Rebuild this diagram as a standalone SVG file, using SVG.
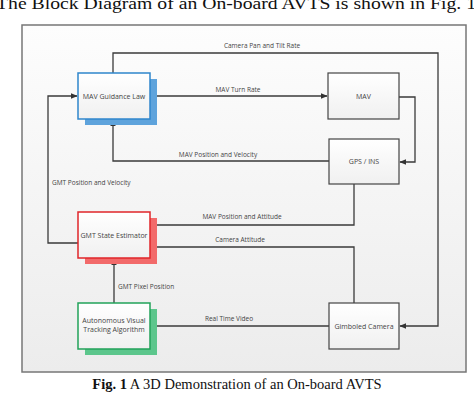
<svg xmlns="http://www.w3.org/2000/svg" width="474" height="401" viewBox="0 0 474 401">
<style>
.lbl{font-family:"Open Sans","Liberation Sans",sans-serif;font-size:6.5px;fill:#444}
.nl{font-family:"Open Sans","Liberation Sans",sans-serif;font-size:7px;fill:#444;text-anchor:middle}
.ln{fill:none;stroke:#3a3a3a;stroke-width:1.3}
.box{fill:url(#nodeg);stroke:#444;stroke-width:1.2}
.serif{font-family:"Liberation Serif","Times New Roman",serif;fill:#111}
</style>
<defs>
<linearGradient id="bg" x1="0" y1="0" x2="0" y2="1"><stop offset="0" stop-color="#fdfdfd"/><stop offset="1" stop-color="#ececec"/></linearGradient>
<linearGradient id="nodeg" x1="0" y1="0" x2="0" y2="1"><stop offset="0" stop-color="#ffffff"/><stop offset="1" stop-color="#f0f0f0"/></linearGradient>
<marker id="ah" viewBox="0 0 10 10" refX="9" refY="5" markerWidth="7" markerHeight="7" markerUnits="userSpaceOnUse" orient="auto"><path d="M0,1 L10,5 L0,9 z" fill="#333"/></marker>
</defs>
<rect width="474" height="401" fill="#fff"/>
<text class="serif" x="-4" y="9" font-size="17" textLength="480" lengthAdjust="spacingAndGlyphs">The Block Diagram of an On-board AVTS is shown in Fig. 1</text>
<rect x="22" y="25" width="444" height="347" fill="url(#bg)" stroke="#777" stroke-width="1.5"/>
<g id="connectors">
<path class="ln" d="M113,73 V53 H438 V326 H400" marker-end="url(#ah)"/>
<path class="ln" d="M150,96 H327" marker-end="url(#ah)"/>
<path class="ln" d="M399,97 H415 V162 H400" marker-end="url(#ah)"/>
<path class="ln" d="M329,161 H113 V120" marker-end="url(#ah)"/>
<path class="ln" d="M78,243 H48 V96 H77" marker-end="url(#ah)"/>
<path class="ln" d="M354,184 V225 H151" marker-end="url(#ah)"/>
<path class="ln" d="M354,303 V247 H151" marker-end="url(#ah)"/>
<path class="ln" d="M329,326 H151" marker-end="url(#ah)"/>
<path class="ln" d="M114,303 V259" marker-end="url(#ah)"/>
<text class="lbl" x="262" y="47.5" text-anchor="middle">Camera Pan and Tilt Rate</text>
<text class="lbl" x="238" y="92" text-anchor="middle">MAV Turn Rate</text>
<text class="lbl" x="218" y="157" text-anchor="middle">MAV Position  and  Velocity</text>
<text class="lbl" x="52" y="185">GMT Position and Velocity</text>
<text class="lbl" x="242" y="219" text-anchor="middle">MAV Position and Attitude</text>
<text class="lbl" x="240" y="242" text-anchor="middle">Camera Attitude</text>
<text class="lbl" x="118" y="289">GMT Pixel Position</text>
<text class="lbl" x="229" y="321" text-anchor="middle">Real Time Video</text>
</g>
<g id="guidance">
<rect x="85" y="79" width="72" height="46" fill="#5ea3dc"/>
<rect x="78" y="73" width="72" height="46" fill="url(#nodeg)" stroke="#2f86cc" stroke-width="1.5"/>
<text class="nl" x="114" y="98.5">MAV Guidance Law</text>
</g>
<g id="mav">
<rect class="box" x="328" y="73" width="71" height="46"/>
<text class="nl" x="363.5" y="98.5">MAV</text>
</g>
<g id="gps">
<rect class="box" x="329" y="139" width="70" height="45"/>
<text class="nl" x="364" y="164">GPS / INS</text>
</g>
<g id="estimator">
<rect x="85" y="218" width="72" height="46" fill="#f26a6a"/>
<rect x="78" y="212" width="72" height="46" fill="url(#nodeg)" stroke="#e0262a" stroke-width="1.5"/>
<text class="nl" x="114" y="237.5">GMT State Estimator</text>
</g>
<g id="tracking">
<rect x="85" y="309" width="72" height="46" fill="#5cc68c"/>
<rect x="78" y="303" width="72" height="46" fill="url(#nodeg)" stroke="#22a25a" stroke-width="1.5"/>
<text class="nl" x="114" y="323">Autonomous Visual</text>
<text class="nl" x="114" y="332">Tracking Algorithm</text>
</g>
<g id="camera">
<rect class="box" x="329" y="303" width="70" height="46"/>
<text class="nl" x="364" y="328.5">Gimboled Camera</text>
</g>
<text class="serif" x="237" y="389" font-size="14.5" text-anchor="middle"><tspan font-weight="bold">Fig. 1</tspan> A 3D Demonstration of an On-board AVTS</text>
</svg>
